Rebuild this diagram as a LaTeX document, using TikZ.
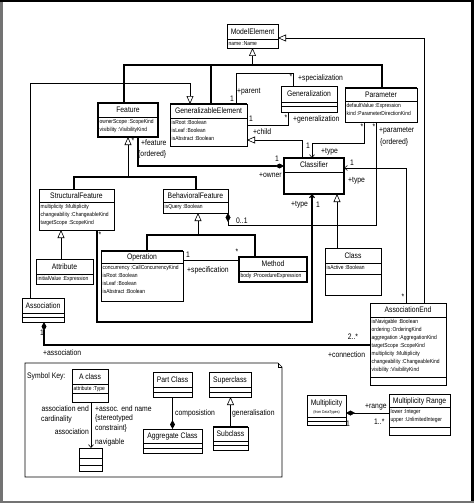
\documentclass[tikz,border=0pt]{standalone}
\usepackage{fontspec}
\setmainfont[FakeStretch=0.85]{Liberation Sans}
\usetikzlibrary{arrows.meta}

\tikzset{
 clsbox/.style={draw, line width=0.6pt, rectangle, inner sep=0pt, outer sep=0pt, anchor=north west},
 clsthick/.style={clsbox, line width=1.2pt},
 sepline/.style={line width=0.55pt},
 clsname/.style={inner sep=0pt, anchor=base, font=\fontsize{8}{9}\selectfont},
 attrtxt/.style={inner sep=0pt, anchor=base west, font=\fontsize{5.8}{7}\selectfont},
 lbl/.style={inner sep=0pt, font=\fontsize{8}{9}\selectfont},
 conn/.style={line width=0.6pt},
 thickconn/.style={line width=1.1pt},
 gentip/.style={-{Triangle[fill=white, length=8pt, width=7pt]}},
 navtip/.style={-{Straight Barb[length=3pt, width=5pt]}},
 comptip/.style={-{Diamond[length=9pt, width=5pt]}},
 compstart/.style={{Diamond[length=9pt, width=5pt]}-},
}

% [style]{name}{x1}{y1}{x2}{y2}{sep}{title}{attrs}
\newcommand{\umlcls}[9][clsbox]{%
 \pgfmathsetmacro\ucw{#5-#3}%
 \pgfmathsetmacro\uch{#6-#4}%
 \pgfmathsetmacro\ucx{(#3+#5)/2}%
 \pgfmathsetmacro\ucy{(#4+#7)/2+2.9}%
 \node[#1, minimum width=\ucw pt, minimum height=\uch pt] (#2) at (#3,#4) {};
 \draw[sepline] (#3,#7) -- (#5,#7);
 \node[clsname] (#2-n) at (\ucx,\ucy) {#8};
 \foreach \uattxt [count=\uai] in {#9} {\node[attrtxt] (#2-a\uai) at (#3+1.5,#7+6.5+8*\uai-8) {\uattxt};}
}

\begin{document}
\begin{tikzpicture}[x=1pt,y=-1pt]
\useasboundingbox (0,0) rectangle (474,503);
\fill[white] (0,0) rectangle (474,503);
\fill[black!55] (0,0) rectangle (2.5,503);
\fill[black] (0,0) rectangle (474,2);
\fill[black] (471,0) rectangle (474,503);
\fill[black!55] (0,500.5) rectangle (474,503);

% ---------- classes ----------
\umlcls{me}{227}{24}{278}{48}{39}{ModelElement}{name :Name}
\umlcls[clsthick]{feat}{98}{103}{158}{137}{117}{Feature}{ownerScope :ScopeKind, visibility :VisibilityKind}
\umlcls{ge}{170}{104}{247}{146}{118}{GeneralizableElement}{isRoot :Boolean, isLeaf :Boolean, isAbstract :Boolean}
\umlcls{gen}{281}{86}{337}{112}{102}{Generalization}{}
\draw[sepline] (gen.west |- 0,106) -- (gen.east |- 0,106);
\umlcls{par}{345}{88}{417}{122}{101}{Parameter}{defaultValue :Expression, kind :ParameterDirectionKind}
\umlcls[clsthick]{cls}{284}{158}{344}{194}{172}{Classifier}{}
\umlcls{sf}{39}{189}{114}{230}{202}{StructuralFeature}{multiplicity :Multiplicity, changeability :ChangeableKind, targetScope :ScopeKind}
\umlcls{bf}{163}{189}{228}{213}{202}{BehavioralFeature}{isQuery :Boolean}
\umlcls{attr}{36}{259}{93}{284}{274}{Attribute}{initialValue :Expression}
\umlcls{op}{101}{251}{183}{301}{263}{Operation}{concurrency :CallConcurrencyKind, isRoot :Boolean, isLeaf :Boolean, isAbstract :Boolean}
\umlcls[clsthick]{meth}{239}{257}{307}{282}{271}{Method}{body :ProcedureExpression}
\umlcls{clsc}{325}{248}{381}{295}{263}{Class}{isActive :Boolean}
\draw[sepline] (clsc.west |- 0,274) -- (clsc.east |- 0,274);
\umlcls{ae}{370}{303}{446}{385}{317}{AssociationEnd}{isNavigable :Boolean, ordering :OrderingKind, aggregation :AggregationKind, targetScope :ScopeKind, multiplicity :Multiplicity, changeability :ChangeableKind, visibility :VisibilityKind}
\draw[sepline] (ae.west |- 0,377) -- (ae.east |- 0,377);
\umlcls{assoc}{22}{298}{64}{322}{313}{Association}{}
\draw[sepline] (assoc.west |- 0,317) -- (assoc.east |- 0,317);

% thicker top edges
\draw[line width=1.2pt] (ge.north west) -- (ge.north east);
\draw[line width=1.2pt] (par.north west) -- (par.north east);
\draw[line width=1.2pt] (op.north west) -- (op.north east);

% ---------- connectors ----------
\draw[thickconn] (124,0 |- feat.north) -- (124,65) -- (382,65) -- (382,0 |- par.north);
\draw[thickconn] (211,0 |- ge.north) -- (211,65);
\draw[conn, gentip] (252.5,65) -- (me.south);
\draw[conn, gentip] (30,0 |- assoc.north) -- (30,83) -- (190,83) -- (190,0 |- ge.north);
\draw[conn, gentip] (424,0 |- ae.north) -- (424,38) -- (me.east |- 0,38);
\draw[conn] (236,0 |- ge.north) -- (236,73) -- (293,73) -- (293,0 |- gen.north);
\draw[conn] (ge.east |- 0,125) -- (288,125) -- (288,0 |- gen.south);
\draw[conn, gentip] (302,0 |- cls.north) -- (302,140) -- (ge.east |- 0,140);
\draw[conn, navtip] (364,0 |- par.south) -- (364,143) -- (312,143) -- (312,0 |- cls.north);
\draw[conn, compstart] (228,0 |- bf.south) -- (228,225) -- (376,225) -- (376,0 |- par.south);
\draw[thickconn, comptip] (138,0 |- feat.south) -- (138,166) -- (cls.west |- 0,166);
\draw[conn, gentip] (128,177) -- (128,0 |- feat.south);
\draw[thickconn] (74,0 |- sf.north) -- (74,177) -- (196,177) -- (196,0 |- bf.north);
\draw[conn, gentip] (61,0 |- attr.north) -- (61,0 |- sf.south);
\draw[conn, gentip] (198,235) -- (198,0 |- bf.south);
\draw[thickconn] (147,0 |- op.north) -- (147,235) -- (255,235) -- (255,0 |- meth.north);
\draw[conn] (op.east |- 0,260) -- (meth.west |- 0,260);
\draw[thickconn, navtip] (97,0 |- sf.south) -- (97,322) -- (312,322) -- (312,0 |- cls.south);
\draw[conn, gentip] (337,0 |- clsc.north) -- (337,0 |- cls.south);
\draw[conn, navtip] (406,0 |- ae.north) -- (406,168) -- (cls.east |- 0,168);
\draw[thickconn, compstart] (44,0 |- assoc.south) -- (44,345) -- (ae.west |- 0,345);

% ---------- labels ----------
\node[lbl] (l-sp1) at (291,77) {*};
\node[lbl, anchor=west] (l-sp2) at (298,78) {+specialization};
\node[lbl, anchor=west] (l-pa1) at (237,92) {+parent};
\node[lbl] (l-pa2) at (232,99) {1};
\node[lbl] (l-ge1) at (251,119) {1};
\node[lbl] (l-ge2) at (286,118) {*};
\node[lbl, anchor=west] (l-ge3) at (293,119) {+generalization};
\node[lbl, anchor=west] (l-ch) at (253,132) {+child};
\node[lbl] (l-pt1) at (362,127) {*};
\node[lbl] (l-pt2) at (308,146) {1};
\node[lbl, anchor=west] (l-pt3) at (321,152) {+type};
\node[lbl] (l-pp1) at (374,127) {*};
\node[lbl, anchor=west] (l-pp2) at (379,131) {+parameter};
\node[lbl, anchor=west] (l-pp3) at (380,142) {\{ordered\}};
\node[lbl, anchor=west] (l-pp4) at (236,221) {0..1};
\node[lbl] (l-f1) at (133,141) {*};
\node[lbl, anchor=west] (l-f2) at (141,143) {+feature};
\node[lbl, anchor=west] (l-f3) at (138,154) {\{ordered\}};
\node[lbl] (l-f4) at (277,159) {1};
\node[lbl, anchor=west] (l-f5) at (259,175) {+owner};
\node[lbl] (l-at1) at (352,163) {1};
\node[lbl, anchor=west] (l-at2) at (348,181) {+type};
\node[lbl, anchor=west] (l-st1) at (291,205) {+type};
\node[lbl] (l-st2) at (318,205) {1};
\node[lbl] (l-st3) at (100,235) {*};
\node[lbl] (l-om1) at (188,255) {1};
\node[lbl] (l-om2) at (237,252) {*};
\node[lbl, anchor=west] (l-om3) at (187,270) {+specification};
\node[lbl] (l-ae1) at (403,297) {*};
\node[lbl] (l-as1) at (42,333) {1};
\node[lbl, anchor=west] (l-as2) at (43,353) {+association};
\node[lbl] (l-as3) at (353,337) {2..*};
\node[lbl, anchor=west] (l-as4) at (328,355) {+connection};

% ---------- symbol key ----------
\draw[line width=0.6pt] (25,363) -- (278,363) -- (282,367) -- (282,477) -- (25,477) -- cycle;
\draw[line width=0.5pt] (278,363) -- (278,367) -- (282,367);
\node[lbl, anchor=west] (k-title) at (27,376) {Symbol Key:};
\umlcls{ac}{72}{369}{108}{402}{384}{A class}{attribute :Type}
\draw[sepline] (ac.west |- 0,393) -- (ac.east |- 0,393);
\umlcls{kb}{79}{448}{102}{471}{458}{}{}
\draw[sepline] (kb.west |- 0,465) -- (kb.east |- 0,465);
\draw[conn, navtip] (91,0 |- ac.south) -- (91,0 |- kb.north);
\node[lbl, anchor=east] (k1) at (89,409) {association end};
\node[lbl, anchor=west] (k2) at (41,419) {cardinality};
\node[lbl, anchor=east] (k3) at (89,432) {association};
\node[lbl, anchor=west] (k4) at (95,409) {+assoc. end name};
\node[lbl, anchor=west] (k5) at (95,418) {\{stereotyped};
\node[lbl, anchor=west] (k6) at (95,428) {constraint\}};
\node[lbl, anchor=west] (k7) at (95,442) {navigable};
\umlcls{pc}{153}{372}{192}{397}{387}{Part Class}{}
\draw[sepline] (pc.west |- 0,392) -- (pc.east |- 0,392);
\umlcls{agg}{143}{429}{202}{453}{443}{Aggregate Class}{}
\draw[sepline] (agg.west |- 0,448) -- (agg.east |- 0,448);
\draw[thickconn, comptip] (pc.south) -- (pc.south |- agg.north);
\node[lbl, anchor=west] (k8) at (175,413) {composistion};
\umlcls{sup}{209}{372}{251}{397}{387}{Superclass}{}
\draw[sepline] (sup.west |- 0,392) -- (sup.east |- 0,392);
\umlcls{sub}{213}{427}{248}{450}{441}{Subclass}{}
\draw[sepline] (sub.west |- 0,445) -- (sub.east |- 0,445);
\draw[line width=1.2pt] (sub.north west) -- (sub.north east);
\draw[conn, gentip] (sub.north) -- (sub.north |- sup.south);
\node[lbl, anchor=west] (k9) at (232,413) {generalisation};

% ---------- multiplicity ----------
\umlcls{mult}{307}{395}{346}{425}{417}{}{}
\draw[sepline] (mult.west |- 0,421) -- (mult.east |- 0,421);
\node[clsname] (mult-t) at (326.5,405) {Multiplicity};
\node[inner sep=0pt, font=\fontsize{4}{5}\selectfont] (mult-s) at (326.5,412) {(from DataTypes)};
\umlcls{mr}{389}{394}{450}{435}{407}{Multiplicity Range}{lower :Integer, upper :UnlimitedInteger}
\draw[sepline] (mr.west |- 0,427) -- (mr.east |- 0,427);
\draw[conn, compstart] (mult.east |- 0,413) -- (mr.west |- 0,413);
\node[lbl, anchor=west] (m1) at (365,407) {+range};
\node[lbl] (m2) at (348,424) {1};
\node[lbl, anchor=west] (m3) at (374,422) {1..*};
\end{tikzpicture}
\end{document}
